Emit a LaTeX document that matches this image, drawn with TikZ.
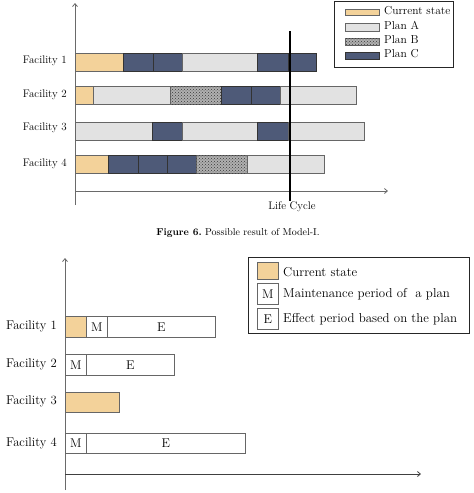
\documentclass[tikz,border=0pt]{standalone}
\usetikzlibrary{patterns,arrows.meta}
\definecolor{curst}{HTML}{F3D29A}
\definecolor{plana}{HTML}{E2E2E2}
\definecolor{planb}{HTML}{B0B0B0}
\definecolor{planc}{HTML}{4E5A78}
\definecolor{axisgray}{HTML}{6A6A6A}
\tikzset{
  seg/.style={draw=gray!80!black, line width=0.6pt, rectangle, inner sep=0pt, anchor=north west},
  segcur/.style={seg, fill=curst},
  sega/.style={seg, fill=plana},
  segb/.style={seg, fill=planb, postaction={pattern=crosshatch dots, pattern color=gray!45!black}},
  segc/.style={seg, fill=planc, draw=black!80},
  segw/.style={seg, fill=white, font=\fontsize{12.7}{13}\selectfont},
  axis/.style={draw=axisgray, line width=0.8pt},
  axisarrow/.style={axis, -{Straight Barb[length=3pt,width=5pt]}},
  flab/.style={anchor=east, inner sep=0pt},
  toplab/.style={flab, font=\fontsize{11}{12}\selectfont},
  botlab/.style={flab, font=\fontsize{12.7}{14}\selectfont},
  legtext/.style={anchor=west, inner sep=0pt},
}
% \sg{name}{style}{x1}{x2}{ytop}{ybot}{text}
\newcommand{\sg}[7]{\node[#2, minimum width={(#4-#3)*1pt}, minimum height={(#6-#5)*1pt}] (#1) at (#3,#5) {#7};}
\begin{document}
\begin{tikzpicture}[x=1pt,y=-1pt]
\useasboundingbox (0,0) rectangle (474,493);
% ---------------- Top diagram ----------------
\coordinate (ty0) at (75,205);
\coordinate (ty1) at (75,3);
\coordinate (tx0) at (75,191);
\coordinate (tx1) at (388,191);
\draw[axisarrow] (ty0) -- (ty1);
\draw[axisarrow] (tx0) -- (tx1);
% Facility 1
\sg{a1}{segcur}{75}{123}{53}{71}{}
\sg{a2}{segc}{123}{153}{53}{71}{}
\sg{a3}{segc}{153}{182}{53}{71}{}
\sg{a4}{sega}{182}{257}{53}{71}{}
\sg{a5}{segc}{257}{288}{53}{71}{}
\sg{a6}{segc}{288}{316}{53}{71}{}
% Facility 2
\sg{b1}{segcur}{75}{93}{86}{104}{}
\sg{b2}{sega}{93}{170}{86}{104}{}
\sg{b3}{segb}{170}{221}{86}{104}{}
\sg{b4}{segc}{221}{251}{86}{104}{}
\sg{b5}{segc}{251}{280}{86}{104}{}
\sg{b6}{sega}{280}{356}{86}{104}{}
% Facility 3
\sg{c1}{sega}{75}{152}{122}{140}{}
\sg{c2}{segc}{152}{182}{122}{140}{}
\sg{c3}{sega}{182}{257}{122}{140}{}
\sg{c4}{segc}{257}{288}{122}{140}{}
\sg{c5}{sega}{288}{364}{122}{140}{}
% Facility 4
\sg{d1}{segcur}{75}{108}{155}{173}{}
\sg{d2}{segc}{108}{138}{155}{173}{}
\sg{d3}{segc}{138}{167}{155}{173}{}
\sg{d4}{segc}{167}{196}{155}{173}{}
\sg{d5}{segb}{196}{247}{155}{173}{}
\sg{d6}{sega}{247}{324}{155}{173}{}
% labels
\node[toplab] (tl1) at (67,61) {Facility 1};
\node[toplab] (tl2) at (67,95) {Facility 2};
\node[toplab] (tl3) at (67,128) {Facility 3};
\node[toplab] (tl4) at (67,164) {Facility 4};
% life cycle
\coordinate (lc0) at (290,31);
\coordinate (lc1) at (290,201);
\draw[black, line width=1.3pt] (lc0) -- (lc1);
\node[font=\fontsize{11}{12}\selectfont, inner sep=0pt] (lclab) at (292,207) {Life Cycle};
% legend
\node[draw=black!85, line width=1.2pt, rectangle, inner sep=0pt, anchor=north west, minimum width=119pt, minimum height=66.5pt] (tleg) at (334,0.6) {};
\sg{ls1}{segcur}{345}{379}{9}{15}{}
\sg{ls2}{sega}{345}{379}{23}{31}{}
\sg{ls3}{segb}{345}{379}{38}{45}{}
\sg{ls4}{segc}{345}{379}{52}{59}{}
\node[legtext, font=\fontsize{11.5}{12}\selectfont] (lt1) at (384,11) {Current state};
\node[legtext, font=\fontsize{11.5}{12}\selectfont] (lt2) at (384,25.5) {Plan A};
\node[legtext, font=\fontsize{11.5}{12}\selectfont] (lt3) at (384,40) {Plan B};
\node[legtext, font=\fontsize{11.5}{12}\selectfont] (lt4) at (384,54) {Plan C};
% caption
\node[font=\fontsize{10}{12}\selectfont, inner sep=0pt] (cap) at (238,233) {\textbf{Figure 6.}\ Possible result of Model-I.};
% ---------------- Bottom diagram ----------------
\coordinate (by0) at (65,490);
\coordinate (by1) at (65,258);
\coordinate (bx0) at (65,474);
\coordinate (bx1) at (421,474);
\draw[axisarrow] (by0) -- (by1);
\draw[axis, draw=black!75, -{Straight Barb[length=3pt,width=5pt]}] (bx0) -- (bx1);
% Facility 1
\sg{e1}{segcur}{65}{86}{316}{337}{}
\sg{e2}{segw}{86}{107}{316}{337}{M}
\sg{e3}{segw}{107}{215}{316}{337}{E}
% Facility 2
\sg{f1}{segw}{65}{86}{354}{375}{M}
\sg{f2}{segw}{86}{174}{354}{375}{E}
% Facility 3
\sg{g1}{segcur}{65}{119}{392}{412}{}
% Facility 4
\sg{h1}{segw}{65}{86}{433}{453}{M}
\sg{h2}{segw}{86}{245}{433}{453}{E}
\node[botlab] (bl1) at (57,326) {Facility 1};
\node[botlab] (bl2) at (57,364) {Facility 2};
\node[botlab] (bl3) at (57,401) {Facility 3};
\node[botlab] (bl4) at (57,443) {Facility 4};
% legend
\node[draw=black!85, line width=1pt, rectangle, inner sep=0pt, anchor=north west, minimum width=221pt, minimum height=76pt] (bleg) at (248,257) {};
\sg{ms1}{segcur}{257}{278}{262}{279}{}
\sg{ms2}{segw}{257}{278}{283}{304}{M}
\sg{ms3}{segw}{257}{278}{308}{329}{E}
\node[legtext, font=\fontsize{12.9}{14}\selectfont] (mt1) at (283,272) {Current state};
\node[legtext, font=\fontsize{12.9}{14}\selectfont] (mt2) at (283,294) {Maintenance period of\ \ a plan};
\node[legtext, font=\fontsize{12.9}{14}\selectfont] (mt3) at (283,319) {Effect period based on the plan};
\end{tikzpicture}
\end{document}
